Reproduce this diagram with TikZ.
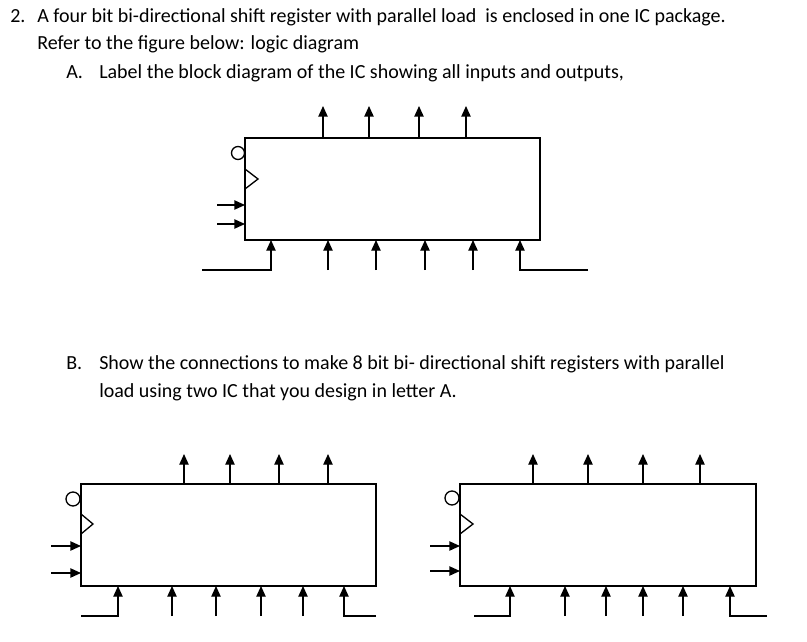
\documentclass[tikz,border=0pt]{standalone}
\usepackage{fontspec}
\setmainfont{Carlito}
\usetikzlibrary{arrows.meta}
\begin{document}
\begin{tikzpicture}[x=0.75pt,y=-0.75pt,
  txt/.style={anchor=base west,inner sep=0pt,font=\fontsize{15}{18}\selectfont},
  wire/.style={line width=1pt},
  arr/.style={wire,-{Triangle[length=8pt,width=7pt]}}]
\useasboundingbox (0,0) rectangle (807,642);
\node[txt] (n2) at (10,23) {2.};
\node[txt] (l1) at (37,23) {A four bit bi-directional shift register with parallel load\ \ is enclosed in one IC package.};
\node[txt] (l2) at (37,50) {Refer to the figure below: logic diagram};
\node[txt] (na) at (66,79) {A.};
\node[txt] (l3) at (99,79) {Label the block diagram of the IC showing all inputs and outputs,};
\node[txt] (nb) at (66,369) {B.};
\node[txt] (l4) at (99,369) {Show the connections to make 8 bit bi- directional shift registers with parallel};
\node[txt] (l5) at (99,397) {load using two IC that you design in letter A.};
% block A
\draw[wire] (245,138) rectangle (540,240);
\draw[wire] (238,153) circle (6.5);
\draw[wire] (245,169) -- (258,179) -- (245,189);
\foreach \y in {205,224} \draw[arr] (217,\y) -- (245,\y);
\foreach \x in {323,369,419,466} \draw[arr] (\x,138) -- (\x,106);
\foreach \x in {328,376,425,473} \draw[arr] (\x,270) -- (\x,240);
\draw[arr] (202,270) -- (271,270) -- (271,240);
\draw[arr] (588,270) -- (520,270) -- (520,240);
% block B1
\draw[wire] (81,484) rectangle (376,586);
\draw[wire] (73,499) circle (7);
\draw[wire] (81,514) -- (93,524) -- (81,534);
\foreach \y in {546,573} \draw[arr] (51,\y) -- (81,\y);
\foreach \x in {184,230,279,328} \draw[arr] (\x,484) -- (\x,454);
\foreach \x in {172,216,261,303} \draw[arr] (\x,616) -- (\x,586);
\draw[arr] (81,616) -- (118,616) -- (118,586);
\draw[arr] (376,616) -- (344,616) -- (344,586);
% block B2
\draw[wire] (460,484) rectangle (756,586);
\draw[wire] (452,498) circle (7);
\draw[wire] (460,514) -- (473,524) -- (460,534);
\foreach \y in {546,571} \draw[arr] (430,\y) -- (460,\y);
\foreach \x in {533,588,643,700} \draw[arr] (\x,484) -- (\x,454);
\foreach \x in {565,606,643,683} \draw[arr] (\x,616) -- (\x,586);
\draw[arr] (474,616) -- (510,616) -- (510,586);
\draw[arr] (767,616) -- (730,616) -- (730,586);
\end{tikzpicture}
\end{document}
